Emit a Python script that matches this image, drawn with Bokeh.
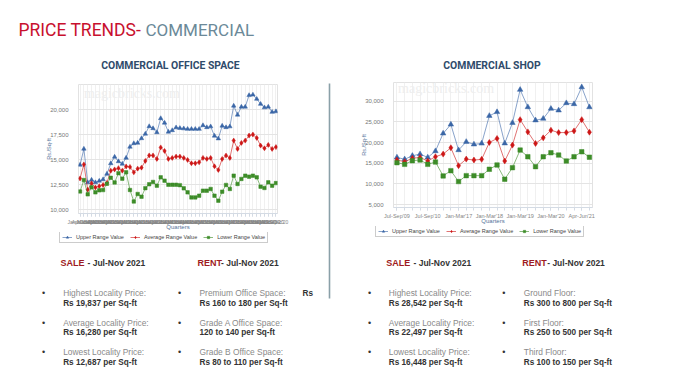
from bokeh.plotting import figure
from bokeh.models import Range1d, FixedTicker, Legend, LegendItem, NumeralTickFormatter
from bokeh.layouts import row, column
from bokeh.embed import file_html
from bokeh.resources import INLINE
from bokeh.core.properties import value

# ---------------- data ----------------
office_quarters = [f"{q}'{y:02d}" for y in range(8, 21)
                   for q in ("Jan-Mar", "Apr-Jun", "Jul-Sep", "Oct-Dec")]
office_upper = [14500, 16100, 12750, 13000, 12750, 12900, 13050, 13600, 14650, 15300,
                14850, 14600, 15200, 16300, 16650, 16700, 17150, 17600, 18350, 18150,
                17750, 19150, 18700, 17800, 17950, 18230, 18170, 18130, 18080, 18080,
                18080, 18080, 18450, 18250, 18330, 17400, 17130, 18400, 18250, 18330,
                20400, 19500, 20300, 20300, 21450, 21500, 21080, 20580, 20230, 20300,
                19780, 19837]
office_average = [13150, 14550, 12030, 12660, 12250, 12380, 12500, 12700, 13930, 14050,
                  14180, 13930, 14350, 14300, 13760, 14130, 14230, 14900, 15450, 15450,
                  15100, 16250, 15900, 15100, 15200, 15330, 15330, 15200, 15000, 14660,
                  14660, 14760, 15200, 15100, 15200, 14360, 14000, 15100, 15430, 15200,
                  16930, 16100, 16700, 16930, 17430, 17530, 17200, 16430, 16160, 16500,
                  16100, 16280]
office_lower = [11850, 12990, 11560, 12260, 11760, 11960, 11990, 12620, 13220, 12750,
                13680, 13130, 13760, 12000, 10850, 11600, 11330, 12180, 12570, 12800,
                12430, 13260, 12930, 12520, 12520, 12520, 12480, 12160, 11760, 11260,
                11260, 11430, 11930, 11930, 12100, 11430, 10930, 11830, 12500, 12100,
                13430, 12600, 13100, 13430, 13330, 13430, 13260, 12330, 12200, 12760,
                12430, 12687]
office_yticks = [10000, 12500, 15000, 17500, 20000]

shop_tick_pos = [0, 4, 8, 12, 16, 20, 24]
shop_tick_labels = ["Jul-Sep'09", "Jul-Sep'10", "Jan-Mar'17", "Jan-Mar'18",
                    "Jan-Mar'19", "Jan-Mar'20", "Apr-Jun'21"]
shop_upper = [16400, 15950, 16800, 17200, 16400, 17930, 22200, 24350, 18170, 20170,
              19550, 19770, 26450, 27370, 19800, 24750, 32750, 28560, 25370, 25770,
              28170, 27770, 29530, 29290, 33370, 28542]
shop_average = [15770, 15370, 16170, 16400, 15530, 16570, 17200, 18730, 14400, 16000,
                15770, 15930, 20010, 20970, 15530, 19370, 25530, 22570, 19770, 21130,
                22970, 22400, 22400, 22800, 25530, 22497]
shop_lower = [15130, 14730, 15600, 15770, 14730, 15290, 11930, 13200, 10570, 12000,
              12000, 12000, 13540, 14570, 11130, 13930, 18170, 16570, 14170, 16570,
              17530, 16970, 15530, 16570, 17770, 16448]
shop_yticks = [5000, 10000, 15000, 20000, 25000, 30000]

series_names = ["Upper Range Value", "Average Range Value", "Lower Range Value"]

left_sale_labels = ["Highest Locality Price:", "Average Locality Price:", "Lowest Locality Price:"]
left_sale_values = ["Rs 19,837 per Sq-ft", "Rs 16,280 per Sq-ft", "Rs 12,687 per Sq-ft"]
left_rent_labels = ["Premium Office Space:", "Grade A Office Space:", "Grade B Office Space:"]
left_rent_values = ["Rs 160 to 180 per Sq-ft", "120 to 140 per Sq-ft", "Rs 80 to 110 per Sq-ft"]
right_sale_labels = ["Highest Locality Price:", "Average Locality Price:", "Lowest Locality Price:"]
right_sale_values = ["Rs 28,542 per Sq-ft", "Rs 22,497 per Sq-ft", "Rs 16,448 per Sq-ft"]
right_rent_labels = ["Ground Floor:", "First Floor:", "Third Floor:"]
right_rent_values = ["Rs 300 to 800 per Sq-ft", "Rs 250 to 500 per Sq-ft", "Rs 100 to 150 per Sq-ft"]

# ---------------- styles ----------------
COLORS = ("#3a66a6", "#cc1616", "#3d8c28")
MARKERS = ("triangle", "diamond", "square")
CF = "Liberation Sans"
AXIS_BLUE = "#55739a"


def blank(width, height):
    p = figure(width=width, height=height, x_range=Range1d(0, width),
               y_range=Range1d(height, 0), output_backend="svg",
               toolbar_location=None, x_axis_location=None, y_axis_location=None,
               min_border_left=0, min_border_right=0, min_border_top=0,
               min_border_bottom=0, outline_line_color=None)
    p.frame_align = False
    p.grid.visible = False
    return p


def chart(width, height, xs, up, av, lo, xr, yr, yticks, xticks, xlabels, borders,
          msizes, wm, lab_size):
    ml, mr, mt, mb = borders
    p = figure(width=width, height=height, x_range=xr, y_range=yr,
               output_backend="svg", toolbar_location=None,
               min_border_left=ml, min_border_right=mr, min_border_top=mt,
               min_border_bottom=mb, outline_line_color="#e2e2e2")
    p.frame_align = False
    p.text(x=[wm[0]], y=[wm[1]], text=["magicbricks.com"],
           text_font=value("Liberation Serif"), text_font_size="14px",
           text_color="#eeeeee", text_baseline="middle", text_align="left")
    for vals, col, mk, ms in zip((up, av, lo), COLORS, MARKERS, msizes):
        p.line(xs, vals, line_color=col, line_width=1, line_alpha=0.6)
        p.scatter(xs, vals, marker=mk, size=ms, fill_color=col, line_color=col,
                  line_width=0.5)

    xa = p.xaxis[0]
    xa.ticker = FixedTicker(ticks=xticks, minor_ticks=list(xs))
    xa.major_label_overrides = {t: l for t, l in zip(xticks, xlabels)}
    xa.axis_label = "Quarters"
    xa.axis_label_text_font = CF
    xa.axis_label_text_font_size = "6px"
    xa.axis_label_text_font_style = "normal"
    xa.axis_label_text_color = AXIS_BLUE
    xa.axis_label_standoff = -4
    xa.major_label_text_font = CF
    xa.major_label_text_font_size = lab_size
    xa.major_label_text_color = "#858585"
    xa.major_label_standoff = 2
    xa.axis_line_color = "#d4dbe4"
    xa.major_tick_line_color = "#d4dbe4"
    xa.major_tick_out = 3
    xa.major_tick_in = 0
    xa.minor_tick_line_color = "#d4dbe4"
    xa.minor_tick_out = 3
    xa.minor_tick_in = 0

    ya = p.yaxis[0]
    ya.ticker = FixedTicker(ticks=yticks)
    ya.formatter = NumeralTickFormatter(format="0,0")
    ya.axis_line_color = None
    ya.major_tick_line_color = None
    ya.minor_tick_line_color = None
    ya.major_label_text_font = CF
    ya.major_label_text_font_size = "6px"
    ya.major_label_text_color = "#777777"
    ya.major_label_standoff = 4
    ya.axis_label = "Rs./Sq-ft"
    ya.axis_label_text_font = CF
    ya.axis_label_text_font_size = "5.5px"
    ya.axis_label_text_font_style = "normal"
    ya.axis_label_text_color = AXIS_BLUE
    ya.axis_label_standoff = -5

    p.xgrid.ticker = FixedTicker(ticks=list(xs))
    p.xgrid.grid_line_color = "#f0f0f0"
    p.ygrid.grid_line_color = "#e4e4e4"
    return p


def legend_fig(width, height, msizes, loc):
    # swatch-only renderers (their single point lies outside this strip)
    f = blank(width, height)
    items = []
    for col, mk, name, ms in zip(COLORS, MARKERS, series_names, msizes):
        ln = f.line(x=[-1000, -999], y=[-1000, -1000], line_color=col, line_width=1,
                    line_alpha=0.6)
        sc = f.scatter(x=[-1000], y=[-1000], marker=mk, size=ms, fill_color=col,
                       line_color=col, line_width=0.5)
        items.append(LegendItem(label=name, renderers=[ln, sc]))
    lg = Legend(items=items, orientation="horizontal", location=loc,
                label_text_font_size="5.5px", label_text_color="#444444",
                label_text_font=CF, glyph_width=10, glyph_height=6,
                label_height=6, label_standoff=4, spacing=6, padding=2, margin=0,
                border_line_color="#9a9a9a", border_line_width=1,
                background_fill_color="white", background_fill_alpha=1.0)
    f.add_layout(lg, "center")
    return f


def txt(p, xs, ys, texts, size, color, font=CF, style="normal", align="left"):
    p.text(x=xs, y=ys, text=texts, text_font=value(font), text_font_size=size,
           text_color=color, text_font_style=style, text_baseline="middle",
           text_align=align)


# ---------------- header ----------------
header = blank(680, 80)
txt(header, [18], [29], ["PRICE TRENDS-"], "17.5px", "#c8102e", font="Roboto")
txt(header, [145], [29], ["COMMERCIAL"], "17px", "#6b8998", font="Roboto")
txt(header, [170, 491.5], [65, 65], ["COMMERCIAL OFFICE SPACE", "COMMERCIAL SHOP"],
    "10.4px", "#2f4b6b", font="Roboto", style="bold", align="center")

# ---------------- charts ----------------
ox = list(range(len(office_quarters)))
p1 = chart(324, 152, ox, office_upper, office_average, office_lower,
           Range1d(-0.4, 51.4), Range1d(9650, 22530), office_yticks,
           ox, office_quarters, (78, 47, 4, 19), (4.5, 5, 3.5), (1, 21630), "5px")
lg1 = legend_fig(324, 18, (4.5, 5, 3.5), (59, 6.7))

sx = list(range(len(shop_upper)))
p2 = chart(346, 146, sx, shop_upper, shop_average, shop_lower,
           Range1d(-0.45, 25.4), Range1d(4300, 34500), shop_yticks,
           shop_tick_pos, shop_tick_labels, (59, 88, 2, 19), (5.5, 6, 4.5),
           (0.15, 33050), "5.5px")
lg2 = legend_fig(346, 24, (5.5, 6, 4.5), (41, 12.7))

# ---------------- divider ----------------
div = blank(10, 303)
div.line(x=[5, 5], y=[3, 218], line_color="#8aa0a8", line_width=1.6)


# ---------------- info panels ----------------
def info(width, sale_x, dash1_x, rent_x, dash2_x, b1, t1, b2, t2,
         sl, sv, rl, rv):
    p = blank(width, 133)
    txt(p, [sale_x, rent_x], [12, 12], ["SALE", "RENT"], "9px", "#9e1b22", style="bold")
    txt(p, [dash1_x, dash2_x], [12, 12], ["- Jul-Nov 2021", "- Jul-Nov 2021"],
        "8.5px", "#333333", style="bold")
    r1 = [42.7, 72.3, 101.7]
    r2 = [52.7, 82.3, 111.7]
    txt(p, [b1] * 3 + [b2] * 3, r1 + r1, ["\u2022"] * 6, "9px", "#333333", align="center")
    txt(p, [t1] * 3, r1, sl, "8.4px", "#8a8a8a")
    txt(p, [t1] * 3, r2, sv, "8.2px", "#333333", style="bold")
    txt(p, [t2] * 3, r1, rl, "8.4px", "#8a8a8a")
    txt(p, [t2] * 3, r2, rv, "8.2px", "#333333", style="bold")
    return p


t1 = info(324, 60, 87, 197, 220.5, 43, 62.7, 179, 199,
          left_sale_labels, left_sale_values, left_rent_labels, left_rent_values)
txt(t1, [302], [42.7], ["Rs"], "8.2px", "#333333", style="bold")
t2 = info(346, 51.7, 79, 187.7, 212.7, 35, 54.3, 169.3, 189.3,
          right_sale_labels, right_sale_values, right_rent_labels, right_rent_values)

layout = column(header, row(column(p1, lg1, t1), div, column(p2, lg2, t2)))

open("out.html", "w").write(file_html(layout, INLINE))
